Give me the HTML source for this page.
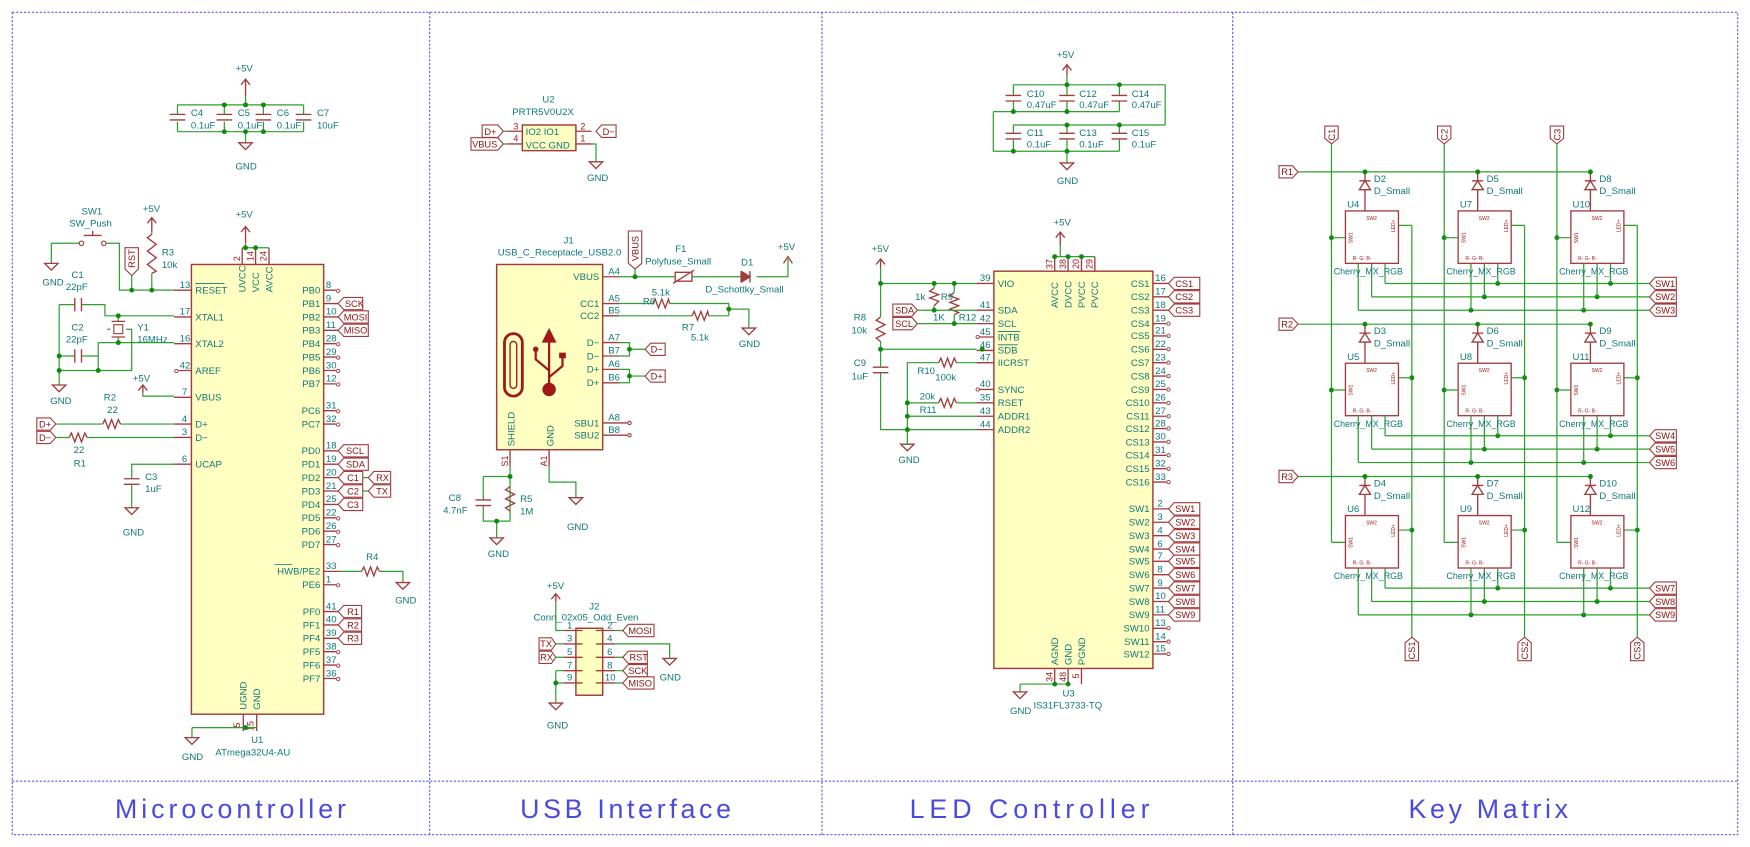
<!DOCTYPE html>
<html><head><meta charset="utf-8"><style>
html,body{margin:0;padding:0;background:#fff}
svg{display:block}
text{font-family:"Liberation Sans",sans-serif;font-size:8.6px;fill:#0f7878}
.p{fill:#a01818;font-size:8px}
.l{fill:#8a1010;font-size:8.3px}
.w{stroke:#2f9e2f;stroke-width:1.1;fill:none}
.c{stroke:#a23c3c;stroke-width:1.2;fill:none}
.b{fill:#ffffc2;stroke:#a23c3c;stroke-width:1.3}
.j{fill:#0e8a0e}
.gl{fill:#fff;stroke:#a23c3c;stroke-width:1}
.t{fill:#4a4ae0;font-size:24px}
.s{font-size:4.5px;fill:#a01818}
.k{font-size:8px}
</style></head><body>
<svg width="1750" height="847" viewBox="0 0 1568 759" preserveAspectRatio="none" xmlns="http://www.w3.org/2000/svg">
<g stroke="#5a5ae6" stroke-width="1" stroke-dasharray="2,1.5" fill="none">
<rect x="11" y="11" width="1546" height="737"/>
<line x1="11" y1="700" x2="1557" y2="700"/>
<line x1="385" y1="11" x2="385" y2="748"/>
<line x1="736.5" y1="11" x2="736.5" y2="748"/>
<line x1="1104.5" y1="11" x2="1104.5" y2="748"/>
</g>
<text class="t" x="103" y="733" textLength="207">Microcontroller</text>
<text class="t" x="466" y="733" textLength="189">USB Interface</text>
<text class="t" x="815" y="733" textLength="215">LED Controller</text>
<text class="t" x="1262" y="733" textLength="143">Key Matrix</text>

<!-- ============ MICROCONTROLLER ============ -->
<text x="211" y="64">+5V</text>
<path class="c" d="M220,86V71M216,76L220,71L224,76"/>
<path class="w" d="M220,86V94M159,94H272M159,118H272M159,94V102M159,109V118M201,94V102M201,109V118M236,94V102M236,109V118M272,94V102M272,109V118M220,118V128"/>
<path class="c" d="M152,102.5H166M152,107.5H166M194,102.5H208M194,107.5H208M229,102.5H243M229,107.5H243M265,102.5H279M265,107.5H279M214,128H226L220,134Z"/>
<g class="j"><circle cx="201" cy="94" r="2.2"/><circle cx="220" cy="94" r="2.2"/><circle cx="236" cy="94" r="2.2"/><circle cx="201" cy="118" r="2.2"/><circle cx="220" cy="118" r="2.2"/><circle cx="236" cy="118" r="2.2"/></g>
<text x="171" y="104">C4</text><text x="171" y="115">0.1uF</text>
<text x="213" y="104">C5</text><text x="213" y="115">0.1uF</text>
<text x="248" y="104">C6</text><text x="248" y="115">0.1uF</text>
<text x="284" y="104">C7</text><text x="284" y="115">10uF</text>
<text x="211" y="152">GND</text>

<rect class="b" x="171.5" y="237" width="118.5" height="403"/>
<path class="c" d="M156,260H171.5M156,284H171.5M156,308H171.5M160,332H171.5M156,356H171.5M156,380H171.5M156,392H171.5M156,416H171.5
M290,260H301M290,272H303M290,284H303M290,296H303M290,308H301M290,320H301M290,332H301M290,344H301M290,368H301M290,380H301M290,404H303M290,416H303M290,428H303M290,440H303M290,452H303M290,464H301M290,476H301M290,488H301M290,512H305M290,524H301M290,548H303M290,560H303M290,572H303M290,584H301M290,596H301M290,608H301
M217,222V237M229,222V237M241,222V237M218,640V655M230,640V655"/>
<g fill="none" stroke="#a23c3c" stroke-width="0.8"><circle cx="303" cy="260.5" r="1.5"/><circle cx="303" cy="308.5" r="1.5"/><circle cx="303" cy="320.5" r="1.5"/><circle cx="303" cy="332.5" r="1.5"/><circle cx="303" cy="344.5" r="1.5"/><circle cx="303" cy="368.5" r="1.5"/><circle cx="303" cy="380.5" r="1.5"/><circle cx="303" cy="464.5" r="1.5"/><circle cx="303" cy="476.5" r="1.5"/><circle cx="303" cy="488.5" r="1.5"/><circle cx="303" cy="524.5" r="1.5"/><circle cx="303" cy="584.5" r="1.5"/><circle cx="303" cy="596.5" r="1.5"/><circle cx="303" cy="608.5" r="1.5"/><circle cx="158" cy="332.5" r="1.5"/></g>
<text x="175" y="263">RESET</text><path d="M175,254H201" stroke="#0f7878" stroke-width="0.7"/>
<text x="175" y="287">XTAL1</text><text x="175" y="311">XTAL2</text><text x="175" y="335">AREF</text><text x="175" y="359">VBUS</text><text x="175" y="383">D+</text><text x="175" y="395">D−</text><text x="175" y="419">UCAP</text>
<g text-anchor="end">
<text x="287" y="263">PB0</text><text x="287" y="275">PB1</text><text x="287" y="287">PB2</text><text x="287" y="299">PB3</text><text x="287" y="311">PB4</text><text x="287" y="323">PB5</text><text x="287" y="335">PB6</text><text x="287" y="347">PB7</text>
<text x="287" y="371">PC6</text><text x="287" y="383">PC7</text>
<text x="287" y="407">PD0</text><text x="287" y="419">PD1</text><text x="287" y="431">PD2</text><text x="287" y="443">PD3</text><text x="287" y="455">PD4</text><text x="287" y="467">PD5</text><text x="287" y="479">PD6</text><text x="287" y="491">PD7</text>
<text x="287" y="515">HWB/PE2</text><text x="287" y="527">PE6</text>
<text x="287" y="551">PF0</text><text x="287" y="563">PF1</text><text x="287" y="575">PF4</text><text x="287" y="587">PF5</text><text x="287" y="599">PF6</text><text x="287" y="611">PF7</text>
</g>
<path d="M246,506H262" stroke="#0f7878" stroke-width="0.7"/>
<g class="p">
<text x="161" y="258">13</text><text x="161" y="282">17</text><text x="161" y="306">16</text><text x="161" y="330">42</text><text x="163" y="354">7</text><text x="163" y="378">4</text><text x="163" y="390">3</text><text x="163" y="414">6</text>
<text x="292" y="258">8</text><text x="292" y="270">9</text><text x="292" y="282">10</text><text x="292" y="294">11</text><text x="292" y="306">28</text><text x="292" y="318">29</text><text x="292" y="330">30</text><text x="292" y="342">12</text>
<text x="292" y="366">31</text><text x="292" y="378">32</text><text x="292" y="402">18</text><text x="292" y="414">19</text><text x="292" y="426">20</text><text x="292" y="438">21</text><text x="292" y="450">25</text><text x="292" y="462">22</text><text x="292" y="474">26</text><text x="292" y="486">27</text>
<text x="292" y="510">33</text><text x="292" y="522">1</text><text x="292" y="546">41</text><text x="292" y="558">40</text><text x="292" y="570">39</text><text x="292" y="582">38</text><text x="292" y="594">37</text><text x="292" y="606">36</text>
</g>
<g transform="rotate(-90)">
<text x="-262" y="220">UVCC</text><text x="-262" y="232">VCC</text><text x="-262" y="244">AVCC</text>
<text x="-636" y="221">UGND</text><text x="-636" y="233">GND</text>
<text class="p" x="-234" y="215">2</text><text class="p" x="-234" y="227">14</text><text class="p" x="-234" y="239">24</text>
<text class="p" x="-652" y="215">5</text><text class="p" x="-655" y="227">15</text>
</g>
<text x="211" y="195">+5V</text>
<path class="c" d="M220,218V203M216,208L220,203L224,208"/>
<path class="w" d="M220,218V222M217,222H241M172,652H230M172,652V661"/>
<path class="c" d="M166,661H178L172,667Z"/>
<circle class="j" cx="220" cy="222" r="2.2"/><circle class="j" cx="229" cy="222" r="2.2"/><circle class="j" cx="220" cy="652" r="2.2"/>
<text x="163" y="681">GND</text><text x="225" y="666">U1</text><text x="193" y="677">ATmega32U4-AU</text>

<path class="gl" d="M303,272L308,266.5H325V277.5H308Z"/><text class="l" x="309" y="275">SCK</text>
<path class="gl" d="M303,284L308,278.5H330V289.5H308Z"/><text class="l" x="308" y="287">MOSI</text>
<path class="gl" d="M303,296L308,290.5H330V301.5H308Z"/><text class="l" x="308" y="299">MISO</text>
<path class="gl" d="M303,404L308,398.5H330V409.5H308Z"/><text class="l" x="310" y="407">SCL</text>
<path class="gl" d="M303,416L308,410.5H330V421.5H308Z"/><text class="l" x="310" y="419">SDA</text>
<path class="gl" d="M303,428L308,422.5H325V433.5H308Z"/><text class="l" x="311" y="431">C1</text>
<path class="gl" d="M303,440L308,434.5H325V445.5H308Z"/><text class="l" x="311" y="443">C2</text>
<path class="gl" d="M303,452L308,446.5H325V457.5H308Z"/><text class="l" x="311" y="455">C3</text>
<path class="gl" d="M330,428L335,422.5H350V433.5H335Z"/><text class="l" x="337" y="431">RX</text>
<path class="gl" d="M330,440L335,434.5H350V445.5H335Z"/><text class="l" x="337" y="443">TX</text>
<path class="w" d="M325,428H330M325,440H330"/>
<path class="gl" d="M303,548L308,542.5H324V553.5H308Z"/><text class="l" x="311" y="551">R1</text>
<path class="gl" d="M303,560L308,554.5H324V565.5H308Z"/><text class="l" x="311" y="563">R2</text>
<path class="gl" d="M303,572L308,566.5H324V577.5H308Z"/><text class="l" x="311" y="575">R3</text>
<path class="w" d="M305,512H324M340,512H361V522"/>
<path class="c" d="M324,512L326,508L329,516L332,508L335,516L338,508L340,512M355,522H367L361,528Z"/>
<text x="328" y="502">R4</text><text x="325" y="513" dy="-1"></text>
<text x="354" y="541">GND</text>
<text x="324" y="513" dy="0"></text>

<!-- SW1 / reset -->
<path class="w" d="M46,218H71M95,218H107V260H156M46,218V236"/>
<path class="c" d="M40,236H52L46,242Z M75,211H91M83,207V211"/>
<circle cx="73" cy="218" r="2" fill="none" stroke="#a23c3c"/><circle cx="93" cy="218" r="2" fill="none" stroke="#a23c3c"/>
<text x="73" y="192">SW1</text><text x="62" y="203">SW_Push</text><text x="38" y="256">GND</text>
<path class="gl" d="M112,222H124V241L118,247L112,241Z"/>
<text class="l" transform="rotate(-90)" x="-240" y="121">RST</text>
<path class="w" d="M118,247V260"/>
<text x="128" y="190">+5V</text>
<path class="c" d="M136,208V195M132,200L136,195L140,200M136,210L132,213L140,219L132,225L140,231L132,237L140,243L136,245"/>
<path class="w" d="M136,208V210M136,245V260"/>
<circle class="j" cx="118" cy="260" r="2.2"/><circle class="j" cx="136" cy="260" r="2.2"/>
<text x="145" y="229">R3</text><text x="145" y="240">10k</text>
<!-- crystal -->
<path class="w" d="M53,273H67M73,273H94V283H156M53,319H67M73,319H88M88,307H156M53,273V345M88,307V332M53,332H118V295H113M96,295H99M106,283V288M106,302V307"/>
<path class="c" d="M67,267V279M73,267V279M67,313V325M73,313V325M100,288H112M100,302H112M47,345H59L53,351Z"/>
<rect x="102" y="291" width="8" height="8" fill="none" stroke="#a23c3c"/>
<g class="j"><circle cx="53" cy="319" r="2.2"/><circle cx="53" cy="332" r="2.2"/><circle cx="88" cy="332" r="2.2"/><circle cx="106" cy="283" r="2.2"/><circle cx="106" cy="307" r="2.2"/></g>
<text x="64" y="249">C1</text><text x="59" y="260">22pF</text><text x="64" y="296">C2</text><text x="59" y="307">22pF</text>
<text x="123" y="296">Y1</text><text x="123" y="307">16MHz</text><text x="45" y="362">GND</text>
<text x="119" y="342">+5V</text>
<path class="c" d="M128,352V345M124,350L128,345L132,350"/>
<path class="w" d="M128,352V355H156"/>
<path class="gl" d="M33,374.5H45L50,380L45,385.5H33Z"/><text class="l" x="35" y="383">D+</text>
<path class="gl" d="M33,386.5H45L50,392L45,397.5H33Z"/><text class="l" x="35" y="395">D−</text>
<path class="w" d="M50,380H92M108,380H156M50,392H62M78,392H156"/>
<path class="c" d="M92,380L94,376L97,384L100,376L103,384L106,376L108,380M62,392L64,388L67,396L70,388L73,396L76,388L78,392"/>
<text x="93" y="359">R2</text><text x="96" y="370">22</text><text x="66" y="406">22</text><text x="66" y="418">R1</text>
<path class="w" d="M156,416H118V429M118,434V455"/>
<path class="c" d="M111,429H125M111,434H125M112,455H124L118,461Z"/>
<text x="130" y="430">C3</text><text x="130" y="441">1uF</text><text x="110" y="480">GND</text>

<!-- ============ USB ============ -->
<rect class="b" x="468" y="112" width="48" height="23"/>
<path class="c" d="M454,117.6H468M454,129H468M516,117.6H530M516,129H530M528,145H540L534,151Z"/>
<path class="w" d="M530,129H534V145"/>
<path class="gl" d="M432,112H446L451,117.6L446,123.2H432Z"/><text class="l" x="434" y="121">D+</text>
<path class="gl" d="M422,123.4H446L451,129L446,134.6H422Z"/><text class="l" x="423" y="132">VBUS</text>
<path class="gl" d="M534,117.6L539,112H552V123.2H539Z"/><text class="l" x="540" y="121">D−</text>
<path class="w" d="M451,117.6H454M451,129H454"/>
<text x="471" y="121">IO2 IO1</text><text x="471" y="133">VCC GND</text>
<text class="p" x="460" y="116">3</text><text class="p" x="460" y="127">4</text><text class="p" x="520" y="116">2</text><text class="p" x="520" y="127">1</text>
<text x="486" y="92">U2</text><text x="459" y="103">PRTR5V0U2X</text><text x="526" y="162">GND</text>

<rect class="b" x="445" y="237" width="95" height="166"/>
<path class="c" d="M540,248H555M540,272H555M540,283H555M540,307H555M540,319H555M540,331H555M540,343H555M540,379H562M540,390H562M457,403V418M492,403V418"/>
<circle cx="564" cy="379" r="1.5" fill="none" stroke="#a23c3c"/><circle cx="564" cy="390" r="1.5" fill="none" stroke="#a23c3c"/>
<g text-anchor="end">
<text x="537" y="251">VBUS</text><text x="537" y="275">CC1</text><text x="537" y="286">CC2</text><text x="537" y="310">D−</text><text x="537" y="322">D−</text><text x="537" y="334">D+</text><text x="537" y="346">D+</text><text x="537" y="382">SBU1</text><text x="537" y="393">SBU2</text>
</g>
<g class="p"><text x="545" y="246">A4</text><text x="545" y="270">A5</text><text x="545" y="281">B5</text><text x="545" y="305">A7</text><text x="545" y="317">B7</text><text x="545" y="329">A6</text><text x="545" y="341">B6</text><text x="545" y="377">A8</text><text x="545" y="388">B8</text></g>
<g transform="rotate(-90)"><text x="-400" y="461">SHIELD</text><text x="-400" y="496">GND</text><text class="p" x="-418" y="455">S1</text><text class="p" x="-418" y="490">A1</text></g>
<rect x="452" y="299" width="16" height="56" rx="8" fill="none" stroke="#a01818" stroke-width="2.5"/>
<rect x="457" y="306" width="6" height="42" rx="3" fill="none" stroke="#a01818" stroke-width="1.2"/>
<path d="M492,348V299M487,306L492,296L497,306Z M492,332L480,322V315M492,338L504,328V320" stroke="#a01818" stroke-width="2" fill="none"/>
<path d="M487,306L492,296L497,306Z" fill="#a01818"/><circle cx="480" cy="313" r="2.5" fill="#a01818"/><rect x="501" y="316" width="6" height="5" fill="#a01818"/>
<circle cx="492" cy="349" r="6" fill="#a01818"/>
<text x="505" y="218">J1</text><text x="446" y="229">USB_C_Receptacle_USB2.0</text>
<path class="w" d="M555,248H605M620,248H664M678,248H706V232M569,241V248"/>
<path class="c" d="M605,244H620V252H605ZM603,254L622,242M664,243V253M672,243V253M664,243L672,248L664,253M702,236L706,230L710,236"/>
<path d="M664,243L672,248L664,253Z" fill="#a23c3c"/>
<text x="697" y="224">+5V</text>
<path class="gl" d="M563,207H575V236L569,241L563,236Z"/><text class="l" transform="rotate(-90)" x="-234" y="572">VBUS</text>
<circle class="j" cx="569" cy="248" r="2.2"/>
<text x="605" y="226">F1</text><text x="578" y="237">Polyfuse_Small</text><text x="664" y="238">D1</text><text x="632" y="262">D_Schottky_Small</text>
<path class="w" d="M555,272H585M600,272H653V283M555,283H620M635,283H653M653,277H671V294"/>
<path class="c" d="M585,272L587,268L590,276L593,268L596,276L599,268L600,272M620,283L622,279L625,287L628,279L631,287L634,279L635,283M665,294H677L671,300Z"/>
<circle class="j" cx="653" cy="277" r="2.2"/>
<text x="576" y="273">R6</text><text x="584" y="265">5.1k</text><text x="611" y="296">R7</text><text x="619" y="305">5.1k</text><text x="662" y="311">GND</text>
<path class="w" d="M555,307H564V319H555M564,313H578M555,331H564V343H555M564,337H578"/>
<circle class="j" cx="564" cy="313" r="2.2"/><circle class="j" cx="564" cy="337" r="2.2"/>
<path class="gl" d="M578,313L583,307.5H596V318.5H583Z"/><text class="l" x="583" y="316">D−</text>
<path class="gl" d="M578,337L583,331.5H596V342.5H583Z"/><text class="l" x="583" y="340">D+</text>
<path class="w" d="M492,418V432H516V446M457,418V467M433,427H457M433,427V448M433,453V467H457M445,467V482"/>
<path class="c" d="M510,446H522L516,452Z M426,448H440M426,453H440M457,436L453,439L461,443L453,447L461,451L453,455L457,458M439,482H451L445,488Z"/>
<circle class="j" cx="457" cy="427" r="2.2"/><circle class="j" cx="445" cy="467" r="2.2"/>
<text x="508" y="475">GND</text><text x="437" y="499">GND</text>
<text x="402" y="449">C8</text><text x="397" y="460">4.7nF</text><text x="466" y="450">R5</text><text x="466" y="461">1M</text>

<rect class="b" x="516" y="563" width="24" height="60"/>
<path class="c" d="M505,565H522M505,577H522M505,589H522M505,601H522M505,612H522M534,565H551M534,577H551M534,589H551M534,601H551M534,612H551"/>
<g class="p"><text x="508" y="563">1</text><text x="508" y="575">3</text><text x="508" y="587">5</text><text x="508" y="599">7</text><text x="508" y="610">9</text><text x="544" y="563">2</text><text x="544" y="575">4</text><text x="544" y="587">6</text><text x="544" y="599">8</text><text x="542" y="610">10</text></g>
<text x="528" y="546">J2</text><text x="478" y="556">Conn_02x05_Odd_Even</text>
<text x="490" y="528">+5V</text>
<path class="c" d="M498,540V532M494,537L498,532L502,537M492,630H504L498,636Z M594,590H606L600,596Z"/>
<path class="w" d="M498,540V565H505M498,601H505M498,601V630M498,612H505M551,577H600V590M551,565H558M551,589H558M551,601H558M551,612H558"/>
<circle class="j" cx="498" cy="612" r="2.2"/>
<path class="gl" d="M483,571.5H494L498,577L494,582.5H483Z"/><text class="l" x="484" y="580">TX</text>
<path class="gl" d="M483,583.5H494L498,589L494,594.5H483Z"/><text class="l" x="484" y="592">RX</text>
<path class="w" d="M498,577H505M498,589H505"/>
<path class="gl" d="M558,565L563,559.5H586V570.5H563Z"/><text class="l" x="563" y="568">MOSI</text>
<path class="gl" d="M558,589L563,583.5H580V594.5H563Z"/><text class="l" x="564" y="592">RST</text>
<path class="gl" d="M558,601L563,595.5H580V606.5H563Z"/><text class="l" x="563" y="604">SCK</text>
<path class="gl" d="M558,612L563,606.5H586V617.5H563Z"/><text class="l" x="563" y="615">MISO</text>
<text x="490" y="653">GND</text><text x="591" y="610">GND</text>

<!-- ============ LED ============ -->
<text x="947" y="52">+5V</text>
<path class="c" d="M956,68V58M952,63L956,58L960,63"/>
<path class="w" d="M956,68V76M908,76H1044V112M908,76V85.5M908,90.5V100M956,76V85.5M956,90.5V100M1003,76V85.5M1003,90.5V100M890,100H1003M908,112H1044M908,112V119.5M908,124.5V135.5M956,112V119.5M956,124.5V135.5M1003,112V119.5M1003,124.5V135.5M890,100V135.5H1003M956,135.5V146"/>
<path class="c" d="M901,85.5H915M901,90.5H915M949,85.5H963M949,90.5H963M996,85.5H1010M996,90.5H1010M901,119.5H915M901,124.5H915M949,119.5H963M949,124.5H963M996,119.5H1010M996,124.5H1010M950,146H962L956,152Z"/>
<g class="j"><circle cx="956" cy="76" r="2.2"/><circle cx="1003" cy="76" r="2.2"/><circle cx="908" cy="100" r="2.2"/><circle cx="956" cy="100" r="2.2"/><circle cx="956" cy="112" r="2.2"/><circle cx="1003" cy="112" r="2.2"/><circle cx="908" cy="135.5" r="2.2"/><circle cx="956" cy="135.5" r="2.2"/></g>
<text x="920" y="87">C10</text><text x="920" y="97">0.47uF</text><text x="967" y="87">C12</text><text x="967" y="97">0.47uF</text><text x="1014" y="87">C14</text><text x="1014" y="97">0.47uF</text>
<text x="920" y="122">C11</text><text x="920" y="132">0.1uF</text><text x="967" y="122">C13</text><text x="967" y="132">0.1uF</text><text x="1014" y="122">C15</text><text x="1014" y="132">0.1uF</text>
<text x="947" y="165">GND</text>

<rect class="b" x="890.5" y="243" width="142.5" height="356"/>
<text x="944" y="202">+5V</text>
<path class="c" d="M950,220V208M946,213L950,208L954,213M945,230V243M957,230V243M969,230V243M981,230V243M945,599V613M957,599V613M969,599V613"/>
<path class="w" d="M950,220V230M945,230H981M914,613H957M914,613V620"/>
<path class="c" d="M908,620H920L914,626Z"/>
<g class="j"><circle cx="945" cy="230" r="2.2"/><circle cx="957" cy="230" r="2.2"/><circle cx="969" cy="230" r="2.2"/><circle cx="945" cy="613" r="2.2"/><circle cx="957" cy="613" r="2.2"/></g>
<g transform="rotate(-90)">
<text x="-276" y="948">AVCC</text><text x="-276" y="960">DVCC</text><text x="-276" y="972">PVCC</text><text x="-276" y="984">PVCC</text>
<text class="p" x="-241" y="943">37</text><text class="p" x="-241" y="955">38</text><text class="p" x="-241" y="967">20</text><text class="p" x="-241" y="979">29</text>
<text x="-596" y="948">AGND</text><text x="-596" y="960">GND</text><text x="-596" y="972">PGND</text>
<text class="p" x="-611" y="943">34</text><text class="p" x="-611" y="955">48</text><text class="p" x="-608" y="967">5</text>
</g>
<text x="905" y="640">GND</text><text x="952" y="624">U3</text><text x="926" y="635">IS31FL3733-TQ</text>
<path class="c" d="M875,254H890.5M875,278H890.5M875,290H890.5M877,302H890.5M875,314H890.5M875,325H890.5M877,349H890.5M875,361H890.5M875,373H890.5M875,385H890.5"/>
<g fill="none" stroke="#a23c3c" stroke-width="0.8"><circle cx="876" cy="302" r="1.5"/><circle cx="876" cy="349" r="1.5"/></g>
<text x="894" y="257">VIO</text><text x="894" y="281">SDA</text><text x="894" y="293">SCL</text><text x="894" y="305">INTB</text><text x="894" y="317">SDB</text><text x="894" y="328">IICRST</text><text x="894" y="352">SYNC</text><text x="894" y="364">RSET</text><text x="894" y="376">ADDR1</text><text x="894" y="388">ADDR2</text>
<path d="M894,297H914M894,309H912" stroke="#0f7878" stroke-width="0.7"/>
<g class="p"><text x="878" y="252">39</text><text x="878" y="276">41</text><text x="878" y="288">42</text><text x="878" y="300">45</text><text x="878" y="312">46</text><text x="878" y="323">47</text><text x="878" y="347">40</text><text x="878" y="359">35</text><text x="878" y="371">43</text><text x="878" y="383">44</text></g>
<path class="c" d="M1033,254H1047M1033,266H1047M1033,278H1047M1033,290H1045M1033,301H1045M1033,313H1045M1033,325H1045M1033,337H1045M1033,349H1045M1033,361H1045M1033,373H1045M1033,384H1045M1033,396H1045M1033,408H1045M1033,420H1045M1033,432H1045
M1033,456H1047M1033,468H1047M1033,480H1047M1033,492H1047M1033,503H1047M1033,515H1047M1033,527H1047M1033,539H1047M1033,551H1047M1033,563H1045M1033,575H1045M1033,586H1045"/>
<g fill="none" stroke="#a23c3c" stroke-width="0.8"><circle cx="1047" cy="290" r="1.5"/><circle cx="1047" cy="301" r="1.5"/><circle cx="1047" cy="313" r="1.5"/><circle cx="1047" cy="325" r="1.5"/><circle cx="1047" cy="337" r="1.5"/><circle cx="1047" cy="349" r="1.5"/><circle cx="1047" cy="361" r="1.5"/><circle cx="1047" cy="373" r="1.5"/><circle cx="1047" cy="384" r="1.5"/><circle cx="1047" cy="396" r="1.5"/><circle cx="1047" cy="408" r="1.5"/><circle cx="1047" cy="420" r="1.5"/><circle cx="1047" cy="432" r="1.5"/><circle cx="1047" cy="563" r="1.5"/><circle cx="1047" cy="575" r="1.5"/><circle cx="1047" cy="586" r="1.5"/></g>
<g text-anchor="end">
<text x="1030" y="257">CS1</text><text x="1030" y="269">CS2</text><text x="1030" y="281">CS3</text><text x="1030" y="293">CS4</text><text x="1030" y="304">CS5</text><text x="1030" y="316">CS6</text><text x="1030" y="328">CS7</text><text x="1030" y="340">CS8</text><text x="1030" y="352">CS9</text><text x="1030" y="364">CS10</text><text x="1030" y="376">CS11</text><text x="1030" y="387">CS12</text><text x="1030" y="399">CS13</text><text x="1030" y="411">CS14</text><text x="1030" y="423">CS15</text><text x="1030" y="435">CS16</text>
<text x="1030" y="459">SW1</text><text x="1030" y="471">SW2</text><text x="1030" y="483">SW3</text><text x="1030" y="495">SW4</text><text x="1030" y="506">SW5</text><text x="1030" y="518">SW6</text><text x="1030" y="530">SW7</text><text x="1030" y="542">SW8</text><text x="1030" y="554">SW9</text><text x="1030" y="566">SW10</text><text x="1030" y="578">SW11</text><text x="1030" y="589">SW12</text>
</g>
<g class="p">
<text x="1035" y="252">16</text><text x="1035" y="264">17</text><text x="1035" y="276">18</text><text x="1035" y="288">19</text><text x="1035" y="299">21</text><text x="1035" y="311">22</text><text x="1035" y="323">23</text><text x="1035" y="335">24</text><text x="1035" y="347">25</text><text x="1035" y="359">26</text><text x="1035" y="371">27</text><text x="1035" y="382">28</text><text x="1035" y="394">30</text><text x="1035" y="406">31</text><text x="1035" y="418">32</text><text x="1035" y="430">33</text>
<text x="1037" y="454">2</text><text x="1037" y="466">3</text><text x="1037" y="478">4</text><text x="1037" y="490">6</text><text x="1037" y="501">7</text><text x="1037" y="513">8</text><text x="1037" y="525">9</text><text x="1035" y="537">10</text><text x="1035" y="549">11</text><text x="1035" y="561">13</text><text x="1035" y="573">14</text><text x="1035" y="584">15</text>
</g>
<g>
<path class="gl" d="M1047,254L1052,248.5H1075V259.5H1052Z"/><text class="l" x="1053" y="257">CS1</text>
<path class="gl" d="M1047,266L1052,260.5H1075V271.5H1052Z"/><text class="l" x="1053" y="269">CS2</text>
<path class="gl" d="M1047,278L1052,272.5H1075V283.5H1052Z"/><text class="l" x="1053" y="281">CS3</text>
<path class="gl" d="M1047,456L1052,450.5H1075V461.5H1052Z"/><text class="l" x="1053" y="459">SW1</text>
<path class="gl" d="M1047,468L1052,462.5H1075V473.5H1052Z"/><text class="l" x="1053" y="471">SW2</text>
<path class="gl" d="M1047,480L1052,474.5H1075V485.5H1052Z"/><text class="l" x="1053" y="483">SW3</text>
<path class="gl" d="M1047,492L1052,486.5H1075V497.5H1052Z"/><text class="l" x="1053" y="495">SW4</text>
<path class="gl" d="M1047,503L1052,497.5H1075V508.5H1052Z"/><text class="l" x="1053" y="506">SW5</text>
<path class="gl" d="M1047,515L1052,509.5H1075V520.5H1052Z"/><text class="l" x="1053" y="518">SW6</text>
<path class="gl" d="M1047,527L1052,521.5H1075V532.5H1052Z"/><text class="l" x="1053" y="530">SW7</text>
<path class="gl" d="M1047,539L1052,533.5H1075V544.5H1052Z"/><text class="l" x="1053" y="542">SW8</text>
<path class="gl" d="M1047,551L1052,545.5H1075V556.5H1052Z"/><text class="l" x="1053" y="554">SW9</text>
</g>
<!-- LED left circuit -->
<text x="781" y="226">+5V</text>
<path class="c" d="M789,240V232M785,237L789,232L793,237M789,284L785,287L793,291L785,295L793,299L785,303L789,306M782,329H796M782,334H796M837,258L833,261L841,264L833,267L841,270L837,274M855,262L851,265L859,268L851,271L859,274L851,277L859,280L855,282M857,325L855,321L852,329L849,321L846,329L843,321L841,325M857,361L855,357L852,365L849,357L846,365L843,357L841,361M807,398H819L813,404Z"/>
<path class="w" d="M789,240V284M789,306V329M789,334V385H875M789,254H875M789,313H875M837,254V258M837,274V278M855,254V262M855,282V290M822,278H875M822,290H875M875,325H857M841,325H813V398M875,361H857M841,361H813M813,373H875"/>
<path class="gl" d="M800,272.5H817L822,278L817,283.5H800Z"/><text class="l" x="802" y="281">SDA</text>
<path class="gl" d="M800,284.5H817L822,290L817,295.5H800Z"/><text class="l" x="802" y="293">SCL</text>
<g class="j"><circle cx="789" cy="254" r="2.2"/><circle cx="837" cy="254" r="2.2"/><circle cx="855" cy="254" r="2.2"/><circle cx="837" cy="278" r="2.2"/><circle cx="855" cy="290" r="2.2"/><circle cx="789" cy="313" r="2.2"/><circle cx="880" cy="313" r="2.2"/><circle cx="813" cy="361" r="2.2"/><circle cx="813" cy="373" r="2.2"/><circle cx="813" cy="385" r="2.2"/></g>
<text x="820" y="269">1k</text><text x="843" y="269">R9</text><text x="836" y="287">1K</text><text x="859" y="287">R12</text>
<text x="765" y="287">R8</text><text x="763" y="299">10k</text><text x="765" y="328">C9</text><text x="763" y="340">1uF</text>
<text x="822" y="335">R10</text><text x="838" y="341">100k</text><text x="824" y="358">20k</text><text x="824" y="370">R11</text><text x="805" y="415">GND</text>

<!-- ============ KEY MATRIX ============ -->
<g id="km">
<!-- column labels and wires -->
<path class="w" d="M1193,129V486M1294,129V486M1395,129V486M1265,202V571M1366,202V571M1467,202V571"/>
<path class="gl" d="M1187,113H1199V124L1193,129L1187,124Z"/><text class="l" transform="rotate(-90)" x="-126" y="1196">C1</text>
<path class="gl" d="M1288,113H1300V124L1294,129L1288,124Z"/><text class="l" transform="rotate(-90)" x="-126" y="1297">C2</text>
<path class="gl" d="M1389,113H1401V124L1395,129L1389,124Z"/><text class="l" transform="rotate(-90)" x="-126" y="1398">C3</text>
<path class="gl" d="M1259,576L1265,571L1271,576V592H1259Z"/><text class="l" transform="rotate(-90)" x="-591" y="1268">CS1</text>
<path class="gl" d="M1360,576L1366,571L1372,576V592H1360Z"/><text class="l" transform="rotate(-90)" x="-591" y="1369">CS2</text>
<path class="gl" d="M1461,576L1467,571L1473,576V592H1461Z"/><text class="l" transform="rotate(-90)" x="-591" y="1470">CS3</text>
<g class="j">
<circle cx="1193" cy="213" r="2.2"/><circle cx="1193" cy="349.5" r="2.2"/><circle cx="1294" cy="213" r="2.2"/><circle cx="1294" cy="349.5" r="2.2"/><circle cx="1395" cy="213" r="2.2"/><circle cx="1395" cy="349.5" r="2.2"/>
<circle cx="1265" cy="338.5" r="2.2"/><circle cx="1265" cy="475" r="2.2"/><circle cx="1366" cy="338.5" r="2.2"/><circle cx="1366" cy="475" r="2.2"/><circle cx="1467" cy="338.5" r="2.2"/><circle cx="1467" cy="475" r="2.2"/>
</g>
<!-- rows -->
<path class="w" d="M1163,154H1425M1163,290.5H1425M1163,427H1425
M1241,254H1478M1229,266H1478M1217,278H1478
M1241,390.5H1478M1229,402.5H1478M1217,414.5H1478
M1241,527H1478M1229,539H1478M1217,551H1478"/>
<path class="gl" d="M1146,148.5H1158L1163,154L1158,159.5H1146Z"/><text class="l" x="1148" y="157">R1</text>
<path class="gl" d="M1146,285H1158L1163,290.5L1158,296H1146Z"/><text class="l" x="1148" y="293.5">R2</text>
<path class="gl" d="M1146,421.5H1158L1163,427L1158,432.5H1146Z"/><text class="l" x="1148" y="430">R3</text>
<path class="gl" d="M1478,254L1483,248.5H1502V259.5H1483Z"/><text class="l" x="1483" y="257">SW1</text>
<path class="gl" d="M1478,266L1483,260.5H1502V271.5H1483Z"/><text class="l" x="1483" y="269">SW2</text>
<path class="gl" d="M1478,278L1483,272.5H1502V283.5H1483Z"/><text class="l" x="1483" y="281">SW3</text>
<path class="gl" d="M1478,390.5L1483,385H1502V396H1483Z"/><text class="l" x="1483" y="393.5">SW4</text>
<path class="gl" d="M1478,402.5L1483,397H1502V408H1483Z"/><text class="l" x="1483" y="405.5">SW5</text>
<path class="gl" d="M1478,414.5L1483,409H1502V420H1483Z"/><text class="l" x="1483" y="417.5">SW6</text>
<path class="gl" d="M1478,527L1483,521.5H1502V532.5H1483Z"/><text class="l" x="1483" y="530">SW7</text>
<path class="gl" d="M1478,539L1483,533.5H1502V544.5H1483Z"/><text class="l" x="1483" y="542">SW8</text>
<path class="gl" d="M1478,551L1483,545.5H1502V556.5H1483Z"/><text class="l" x="1483" y="554">SW9</text>
<g class="j">
<circle cx="1342" cy="254" r="2.2"/><circle cx="1330" cy="266" r="2.2"/><circle cx="1318" cy="278" r="2.2"/><circle cx="1443" cy="254" r="2.2"/><circle cx="1431" cy="266" r="2.2"/><circle cx="1419" cy="278" r="2.2"/>
<circle cx="1342" cy="390.5" r="2.2"/><circle cx="1330" cy="402.5" r="2.2"/><circle cx="1318" cy="414.5" r="2.2"/><circle cx="1443" cy="390.5" r="2.2"/><circle cx="1431" cy="402.5" r="2.2"/><circle cx="1419" cy="414.5" r="2.2"/>
<circle cx="1342" cy="527" r="2.2"/><circle cx="1330" cy="539" r="2.2"/><circle cx="1318" cy="551" r="2.2"/><circle cx="1443" cy="527" r="2.2"/><circle cx="1431" cy="539" r="2.2"/><circle cx="1419" cy="551" r="2.2"/>
</g>
</g>
<!-- cells -->
<g transform="translate(0,0)"><path class="w" d="M1193,213H1205M1253,202H1265M1217,236V278M1229,236V266M1241,236V254"/><path class="c" d="M1223,154V162M1218,162H1228M1218,170H1228L1223,162ZM1223,170V189"/><rect x="1205.5" y="189" width="47.5" height="47" fill="none" stroke="#a23c3c" stroke-width="1.2"/><circle class="j" cx="1223" cy="154" r="2.2"/><text x="1231" y="163">D2</text><text x="1231" y="174">D_Small</text><text x="1207" y="186">U4</text><text class="k" x="1195" y="246">Cherry_MX_RGB</text><text class="s" x="1224" y="197">SW2</text><text class="s" x="1212" y="233">R- G- B-</text><text class="s" transform="rotate(-90)" x="-218" y="1212">SW1</text><text class="s" transform="rotate(-90)" x="-208" y="1250">LED+</text></g>
<g transform="translate(101,0)"><path class="w" d="M1193,213H1205M1253,202H1265M1217,236V278M1229,236V266M1241,236V254"/><path class="c" d="M1223,154V162M1218,162H1228M1218,170H1228L1223,162ZM1223,170V189"/><rect x="1205.5" y="189" width="47.5" height="47" fill="none" stroke="#a23c3c" stroke-width="1.2"/><circle class="j" cx="1223" cy="154" r="2.2"/><text x="1231" y="163">D5</text><text x="1231" y="174">D_Small</text><text x="1207" y="186">U7</text><text class="k" x="1195" y="246">Cherry_MX_RGB</text><text class="s" x="1224" y="197">SW2</text><text class="s" x="1212" y="233">R- G- B-</text><text class="s" transform="rotate(-90)" x="-218" y="1212">SW1</text><text class="s" transform="rotate(-90)" x="-208" y="1250">LED+</text></g>
<g transform="translate(202,0)"><path class="w" d="M1193,213H1205M1253,202H1265M1217,236V278M1229,236V266M1241,236V254"/><path class="c" d="M1223,154V162M1218,162H1228M1218,170H1228L1223,162ZM1223,170V189"/><rect x="1205.5" y="189" width="47.5" height="47" fill="none" stroke="#a23c3c" stroke-width="1.2"/><circle class="j" cx="1223" cy="154" r="2.2"/><text x="1231" y="163">D8</text><text x="1231" y="174">D_Small</text><text x="1207" y="186">U10</text><text class="k" x="1195" y="246">Cherry_MX_RGB</text><text class="s" x="1224" y="197">SW2</text><text class="s" x="1212" y="233">R- G- B-</text><text class="s" transform="rotate(-90)" x="-218" y="1212">SW1</text><text class="s" transform="rotate(-90)" x="-208" y="1250">LED+</text></g>
<g transform="translate(0,136.5)"><path class="w" d="M1193,213H1205M1253,202H1265M1217,236V278M1229,236V266M1241,236V254"/><path class="c" d="M1223,154V162M1218,162H1228M1218,170H1228L1223,162ZM1223,170V189"/><rect x="1205.5" y="189" width="47.5" height="47" fill="none" stroke="#a23c3c" stroke-width="1.2"/><circle class="j" cx="1223" cy="154" r="2.2"/><text x="1231" y="163">D3</text><text x="1231" y="174">D_Small</text><text x="1207" y="186">U5</text><text class="k" x="1195" y="246">Cherry_MX_RGB</text><text class="s" x="1224" y="197">SW2</text><text class="s" x="1212" y="233">R- G- B-</text><text class="s" transform="rotate(-90)" x="-218" y="1212">SW1</text><text class="s" transform="rotate(-90)" x="-208" y="1250">LED+</text></g>
<g transform="translate(101,136.5)"><path class="w" d="M1193,213H1205M1253,202H1265M1217,236V278M1229,236V266M1241,236V254"/><path class="c" d="M1223,154V162M1218,162H1228M1218,170H1228L1223,162ZM1223,170V189"/><rect x="1205.5" y="189" width="47.5" height="47" fill="none" stroke="#a23c3c" stroke-width="1.2"/><circle class="j" cx="1223" cy="154" r="2.2"/><text x="1231" y="163">D6</text><text x="1231" y="174">D_Small</text><text x="1207" y="186">U8</text><text class="k" x="1195" y="246">Cherry_MX_RGB</text><text class="s" x="1224" y="197">SW2</text><text class="s" x="1212" y="233">R- G- B-</text><text class="s" transform="rotate(-90)" x="-218" y="1212">SW1</text><text class="s" transform="rotate(-90)" x="-208" y="1250">LED+</text></g>
<g transform="translate(202,136.5)"><path class="w" d="M1193,213H1205M1253,202H1265M1217,236V278M1229,236V266M1241,236V254"/><path class="c" d="M1223,154V162M1218,162H1228M1218,170H1228L1223,162ZM1223,170V189"/><rect x="1205.5" y="189" width="47.5" height="47" fill="none" stroke="#a23c3c" stroke-width="1.2"/><circle class="j" cx="1223" cy="154" r="2.2"/><text x="1231" y="163">D9</text><text x="1231" y="174">D_Small</text><text x="1207" y="186">U11</text><text class="k" x="1195" y="246">Cherry_MX_RGB</text><text class="s" x="1224" y="197">SW2</text><text class="s" x="1212" y="233">R- G- B-</text><text class="s" transform="rotate(-90)" x="-218" y="1212">SW1</text><text class="s" transform="rotate(-90)" x="-208" y="1250">LED+</text></g>
<g transform="translate(0,273)"><path class="w" d="M1193,213H1205M1253,202H1265M1217,236V278M1229,236V266M1241,236V254"/><path class="c" d="M1223,154V162M1218,162H1228M1218,170H1228L1223,162ZM1223,170V189"/><rect x="1205.5" y="189" width="47.5" height="47" fill="none" stroke="#a23c3c" stroke-width="1.2"/><circle class="j" cx="1223" cy="154" r="2.2"/><text x="1231" y="163">D4</text><text x="1231" y="174">D_Small</text><text x="1207" y="186">U6</text><text class="k" x="1195" y="246">Cherry_MX_RGB</text><text class="s" x="1224" y="197">SW2</text><text class="s" x="1212" y="233">R- G- B-</text><text class="s" transform="rotate(-90)" x="-218" y="1212">SW1</text><text class="s" transform="rotate(-90)" x="-208" y="1250">LED+</text></g>
<g transform="translate(101,273)"><path class="w" d="M1193,213H1205M1253,202H1265M1217,236V278M1229,236V266M1241,236V254"/><path class="c" d="M1223,154V162M1218,162H1228M1218,170H1228L1223,162ZM1223,170V189"/><rect x="1205.5" y="189" width="47.5" height="47" fill="none" stroke="#a23c3c" stroke-width="1.2"/><circle class="j" cx="1223" cy="154" r="2.2"/><text x="1231" y="163">D7</text><text x="1231" y="174">D_Small</text><text x="1207" y="186">U9</text><text class="k" x="1195" y="246">Cherry_MX_RGB</text><text class="s" x="1224" y="197">SW2</text><text class="s" x="1212" y="233">R- G- B-</text><text class="s" transform="rotate(-90)" x="-218" y="1212">SW1</text><text class="s" transform="rotate(-90)" x="-208" y="1250">LED+</text></g>
<g transform="translate(202,273)"><path class="w" d="M1193,213H1205M1253,202H1265M1217,236V278M1229,236V266M1241,236V254"/><path class="c" d="M1223,154V162M1218,162H1228M1218,170H1228L1223,162ZM1223,170V189"/><rect x="1205.5" y="189" width="47.5" height="47" fill="none" stroke="#a23c3c" stroke-width="1.2"/><circle class="j" cx="1223" cy="154" r="2.2"/><text x="1231" y="163">D10</text><text x="1231" y="174">D_Small</text><text x="1207" y="186">U12</text><text class="k" x="1195" y="246">Cherry_MX_RGB</text><text class="s" x="1224" y="197">SW2</text><text class="s" x="1212" y="233">R- G- B-</text><text class="s" transform="rotate(-90)" x="-218" y="1212">SW1</text><text class="s" transform="rotate(-90)" x="-208" y="1250">LED+</text></g>
</svg>
</body></html>
